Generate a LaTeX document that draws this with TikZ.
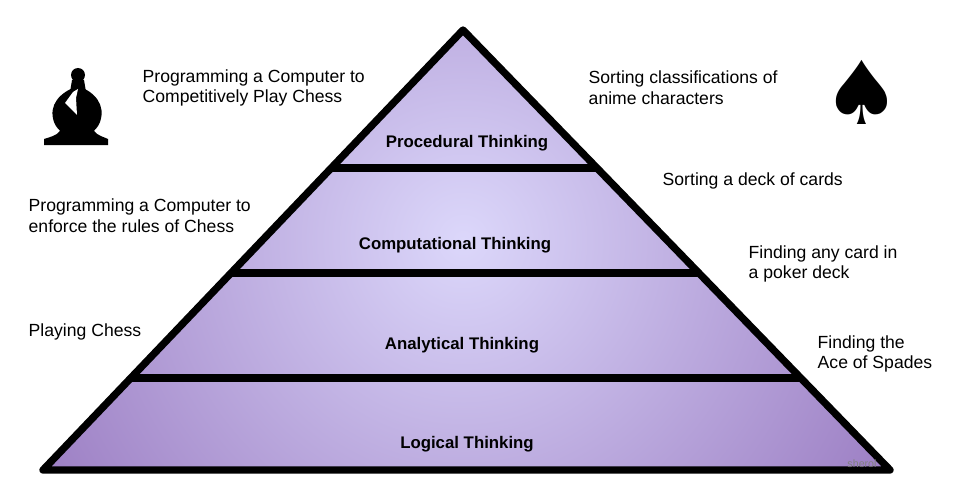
\documentclass[tikz,border=0pt]{standalone}
\usepackage{fontspec}
\setmainfont{Liberation Sans}
\newfontfamily\symfont{DejaVu Sans}
\begin{document}
\begin{tikzpicture}[x=0.75pt,y=-0.75pt,
  lbl/.style={font=\fontsize{13.2}{15.5}\selectfont,align=left,anchor=west},
  ttl/.style={font=\bfseries\fontsize{12.6}{14}\selectfont}]
\useasboundingbox (0,0) rectangle (955,499);
\coordinate (A) at (463,30);
\coordinate (B) at (43,470);
\coordinate (C) at (890,470);
\begin{scope}
\clip (A)--(B)--(C)--cycle;
\shade[inner color=white!80!violet!60!blue!30, outer color={rgb,255:red,150;green,118;blue,190}] (463,240) circle (530);
\draw[line width=5.5pt] (0,168)--(955,168) (0,273)--(955,273) (0,378)--(955,378);
\end{scope}
\draw[line width=5.5pt,line join=round] (A)--(B)--(C)--cycle;
\node[ttl] (p) at (467,143) {Procedural Thinking};
\node[ttl] (c) at (455,245) {Computational Thinking};
\node[ttl] (a) at (462,345) {Analytical Thinking};
\node[ttl] (l) at (467,444) {Logical Thinking};
\node[lbl] (t1) at (138,88) {Programming a Computer to\\Competitively Play Chess};
\node[lbl] (t2) at (24,216) {Programming a Computer to\\enforce the rules of Chess};
\node[lbl] (t3) at (24,332) {Playing Chess};
\node[lbl] (t4) at (584,88) {Sorting classifications of\\anime characters};
\node[lbl] (t5) at (658,181) {Sorting a deck of cards};
\node[lbl] (t6) at (744,264) {Finding any card in\\a poker deck};
\node[lbl] (t7) at (813,354) {Finding the\\Ace of Spades};
% bishop
\fill (78,75) circle (7);
\fill (72,80) -- (84,80) -- (86,92) -- (70,92) -- cycle;
\fill (78,86) .. controls (95,92) and (106,105) .. (100,122)
  .. controls (98,128) and (94,130) .. (94,131)
  .. controls (98,136) and (104,137) .. (108,139) -- (108,145) -- (44,145) -- (44,139)
  .. controls (50,137) and (56,136) .. (60,131)
  .. controls (60,130) and (56,128) .. (54,122)
  .. controls (48,105) and (60,92) .. (78,86) -- cycle;
\fill[white] (73,92) -- (78,89) -- (76,98) -- (77,115) -- (65,103) -- cycle;
\node[font=\symfont\fontsize{66}{66}\selectfont,inner sep=0] (spade) at (862,92) {♠};
\node[font=\fontsize{8}{9}\selectfont,text=gray] (w) at (862,464) {sherol};
\end{tikzpicture}
\end{document}
